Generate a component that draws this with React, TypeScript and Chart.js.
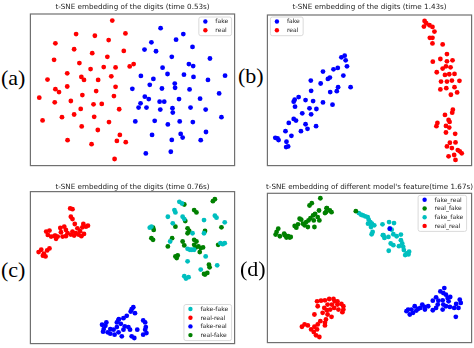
import React, { useEffect, useRef } from "react";
import { Chart, registerables } from "chart.js";

Chart.register(...registerables);

// matplotlib colours
const BLUE = "#0000ff";
const RED = "#ff0000";
const CYAN = "#00bfbf";
const GREEN = "#008000";

// ---------- panel (a) ----------
const aFake: number[][] = [
  [483, 85], [552, 103], [530, 120], [455, 128], [434, 150], [469, 155], [580, 142], [517, 172], [633, 177],
  [569, 194], [582, 200], [489, 205], [423, 230], [504, 224], [554, 226], [583, 233], [679, 229], [461, 239],
  [450, 257], [526, 253], [527, 266], [487, 268], [627, 242], [397, 269], [571, 271], [435, 293], [447, 300],
  [661, 283], [539, 300], [480, 308], [494, 308], [603, 299], [422, 313], [416, 326], [440, 326], [482, 332],
  [519, 328], [520, 341], [574, 326], [620, 332], [406, 368], [465, 366], [505, 377], [541, 368], [581, 370],
  [668, 355], [457, 409], [544, 406], [550, 417], [621, 400], [517, 424], [605, 425], [438, 465], [514, 460],
];
const aReal: number[][] = [
  [336, 62], [226, 103], [283, 108], [376, 101], [163, 131], [325, 121], [220, 149], [275, 161], [371, 154],
  [321, 172], [159, 181], [236, 191], [270, 209], [310, 203], [346, 204], [389, 201], [401, 194], [199, 222],
  [242, 233], [250, 242], [293, 242], [333, 231], [139, 241], [199, 262], [163, 270], [174, 279], [287, 276],
  [346, 263], [114, 296], [245, 288], [341, 291], [161, 310], [210, 306], [279, 316], [304, 315], [240, 330],
  [357, 331], [220, 347], [183, 355], [281, 354], [326, 370], [124, 365], [243, 383], [292, 394], [359, 409],
  [200, 425], [350, 427], [377, 431], [273, 437], [343, 482],
];

// ---------- panel (b) ----------
const bFake: number[][] = [
  [322, 168], [312, 173], [325, 182], [329, 200], [288, 209], [301, 205], [256, 216], [318, 228], [277, 234],
  [271, 238], [340, 263], [219, 243], [249, 252], [302, 263], [220, 274], [298, 275], [278, 278], [182, 293],
  [170, 301], [167, 307], [203, 302], [226, 305], [256, 309], [285, 316], [171, 322], [215, 327], [236, 329],
  [193, 342], [220, 345], [167, 359], [174, 364], [152, 371], [203, 375], [235, 381], [209, 389], [189, 396],
  [142, 396], [160, 410], [111, 416], [118, 418], [121, 423], [145, 428], [144, 444], [150, 442],
];
const bReal: number[][] = [
  [565, 63], [570, 70], [563, 80], [580, 76], [589, 81], [595, 95], [581, 114], [589, 114], [589, 131],
  [620, 134], [633, 163], [613, 178], [590, 186], [633, 185], [650, 182], [630, 200], [620, 207], [644, 203],
  [602, 218], [627, 226], [640, 224], [656, 223], [671, 244], [615, 246], [633, 246], [648, 243], [613, 270],
  [631, 266], [656, 263], [664, 279], [645, 286], [651, 331], [649, 340], [627, 347], [638, 362], [641, 368],
  [604, 371], [601, 381], [630, 380], [640, 385], [630, 400], [658, 404], [642, 431], [659, 430], [633, 442],
  [648, 447], [666, 453], [672, 457], [678, 463], [655, 468], [638, 472], [659, 483],
];

// ---------- panel (c) ----------
const cFakeFake: number[][] = [
  [540, 83], [548, 88], [525, 108], [528, 115], [505, 128], [550, 128], [555, 135], [615, 138], [648, 125],
  [653, 131], [678, 145], [520, 148], [450, 161], [455, 158], [580, 178], [615, 178], [512, 203], [565, 225],
  [572, 228], [578, 228], [585, 228], [665, 208], [672, 211], [678, 208], [620, 248], [565, 263], [655, 275],
  [605, 288], [555, 308], [560, 315], [568, 311],
];
const cRealReal: number[][] = [
  [208, 103], [215, 105], [210, 128], [215, 135], [222, 150], [248, 150], [256, 158], [262, 155], [245, 160],
  [230, 163], [238, 172], [250, 180], [242, 187], [233, 182], [225, 178], [215, 173], [220, 185], [210, 182],
  [200, 178], [195, 168], [190, 158], [178, 162], [180, 175], [185, 188], [195, 187], [170, 188], [160, 186],
  [150, 188], [140, 183], [135, 173], [145, 170], [163, 185], [165, 195], [120, 228], [112, 235], [128, 240],
  [133, 248], [138, 230], [145, 224], [125, 246],
];
const cFakeReal: number[][] = [
  [400, 402], [395, 408], [392, 415], [405, 420], [380, 428], [370, 435], [356, 438], [350, 448], [362, 452],
  [374, 460], [385, 462], [370, 470], [350, 462], [340, 470], [330, 468], [315, 458], [310, 468], [305, 455],
  [322, 478], [330, 482], [343, 485], [355, 478], [365, 490], [395, 490], [403, 495], [390, 470], [412, 470],
  [430, 442], [436, 448], [438, 462], [436, 470], [430, 485], [440, 480], [355, 440], [318, 448], [308, 476],
];
const cRealFake: number[][] = [
  [555, 91], [585, 108], [592, 115], [642, 81], [648, 75], [558, 141], [528, 158], [565, 163], [570, 171],
  [668, 160], [460, 161], [462, 168], [618, 171], [565, 178], [455, 193], [460, 198], [518, 193], [505, 218],
  [550, 203], [555, 215], [585, 198], [592, 203], [585, 213], [598, 218], [605, 223], [612, 221], [590, 221],
  [602, 235], [658, 213], [528, 248], [532, 253], [535, 245], [630, 273], [632, 281], [618, 303], [625, 298],
  [615, 301],
];

// ---------- panel (d) ----------
const dFakeReal: number[][] = [
  [625, 345], [613, 355], [622, 360], [630, 365], [635, 375], [620, 382], [607, 383], [590, 383], [605, 395],
  [600, 405], [590, 412], [622, 395], [630, 400], [642, 402], [655, 405], [668, 405], [672, 380], [675, 390],
  [661, 393], [638, 385], [576, 400], [565, 402], [552, 405], [545, 408], [535, 400], [525, 410], [515, 410],
  [510, 415], [520, 425], [530, 420], [540, 413], [558, 395], [566, 410], [660, 432], [620, 410], [600, 373],
  [643, 372], [459, 165],
];
const dRealFake: number[][] = [
  [248, 73], [222, 88], [215, 95], [268, 103], [277, 110], [282, 115], [265, 115], [244, 110], [232, 120],
  [226, 125], [218, 133], [240, 130], [245, 140], [212, 140], [205, 145], [195, 150], [180, 152], [170, 157],
  [185, 135], [190, 138], [200, 155], [230, 160], [210, 160], [175, 162], [150, 188], [155, 192], [138, 180],
  [140, 185], [120, 165], [115, 175], [112, 183], [125, 188], [145, 192], [158, 190], [228, 140], [262, 118],
  [267, 103], [356, 112],
];
const dFakeFake: number[][] = [
  [365, 118], [372, 123], [378, 125], [385, 128], [392, 130], [395, 138], [400, 145], [405, 150], [393, 150],
  [402, 160], [412, 155], [407, 175], [404, 182], [437, 152], [457, 145], [472, 148], [460, 165], [465, 168],
  [440, 185], [443, 193], [438, 185], [455, 190], [470, 182], [480, 188], [493, 183], [462, 210], [470, 215],
  [456, 232], [487, 218], [500, 220], [502, 230], [510, 240], [518, 235], [516, 243], [506, 245], [493, 200],
  [497, 210],
];
const dRealReal: number[][] = [
  [238, 385], [250, 383], [262, 382], [275, 378], [288, 378], [300, 385], [312, 393], [318, 400], [318, 410],
  [315, 418], [303, 410], [290, 405], [278, 410], [268, 412], [260, 405], [270, 395], [283, 395], [292, 385],
  [240, 400], [230, 425], [255, 420], [270, 425], [282, 432], [265, 440], [248, 445], [262, 458], [240, 455],
  [230, 462], [210, 458], [200, 455], [192, 462], [220, 470], [228, 478], [235, 488], [245, 493], [238, 470],
  [262, 450], [300, 395],
];

const titles = [
  "t-SNE embedding of the digits (time 0.53s)",
  "t-SNE embedding of the digits (time 1.43s)",
  "t-SNE embedding of the digits (time 0.76s)",
  "t-SNE embedding of different model's feature(time 1.67s)",
];
const tags = ["(a)", "(b)", "(c)", "(d)"];

type Series = { label: string; color: string; pts: number[][] };
type Panel = {
  frame: [number, number, number, number]; // L, T, R, B in page px
  titleY: number;
  title: string;
  yr: [number, number];
  series: Series[];
  legend: { corner: "tl" | "tr" | "br"; dx: number; dy: number };
  tag: string;
  tagX: number;
  tagY: number;
};

const panels: Panel[] = [
  {
    frame: [29, 14, 236, 167.3], titleY: 6.9, title: titles[0], yr: [42, 502],
    series: [
      { label: "fake", color: BLUE, pts: aFake },
      { label: "real", color: RED, pts: aReal },
    ],
    legend: { corner: "tr", dx: 3, dy: 3 }, tag: tags[0], tagX: 1, tagY: 80,
  },
  {
    frame: [266, 15, 473, 166.7], titleY: 6.7, title: titles[1], yr: [45, 500],
    series: [
      { label: "fake", color: BLUE, pts: bFake },
      { label: "real", color: RED, pts: bReal },
    ],
    legend: { corner: "tl", dx: 3, dy: 2 }, tag: tags[1], tagX: 238, tagY: 78,
  },
  {
    frame: [29, 191.3, 236, 344.7], titleY: 187.3, title: titles[2], yr: [52, 512],
    series: [
      { label: "fake-fake", color: CYAN, pts: cFakeFake },
      { label: "real-real", color: RED, pts: cRealReal },
      { label: "fake-real", color: BLUE, pts: cFakeReal },
      { label: "real-fake", color: GREEN, pts: cRealFake },
    ],
    legend: { corner: "br", dx: 3, dy: 3 }, tag: tags[2], tagX: 1, tagY: 271.3,
  },
  {
    frame: [266, 193.3, 473, 344], titleY: 186.7, title: titles[3], yr: [58, 510],
    series: [
      { label: "fake_real", color: BLUE, pts: dFakeReal },
      { label: "real_fake", color: GREEN, pts: dRealFake },
      { label: "fake_fake", color: CYAN, pts: dFakeFake },
      { label: "real_real", color: RED, pts: dRealReal },
    ],
    legend: { corner: "tr", dx: 5, dy: 2 }, tag: tags[3], tagX: 240, tagY: 270.3,
  },
];

const X_RANGE: [number, number] = [87, 708];
const TITLE_SIZE = 7.2;
const LEGEND_SIZE = 6;
const FONT = "'DejaVu Sans', sans-serif";

const framePlugin = {
  id: "frameBox",
  afterDatasetsDraw(chart: any) {
    const { ctx, chartArea } = chart;
    ctx.save();
    ctx.strokeStyle = "#707070";
    ctx.lineWidth = 1.2;
    ctx.strokeRect(chartArea.left, chartArea.top, chartArea.right - chartArea.left, chartArea.bottom - chartArea.top);
    ctx.restore();
  },
};

const legendPlugin = {
  id: "insideLegend",
  afterDraw(chart: any, _args: any, opts: any) {
    if (!opts || !opts.corner) return;
    const { ctx, chartArea } = chart;
    const items = chart.data.datasets.map((d: any) => ({ label: d.label, color: d.backgroundColor }));
    ctx.save();
    ctx.font = `${LEGEND_SIZE}px ${FONT}`;
    const maxW = Math.max(...items.map((it: any) => ctx.measureText(it.label).width));
    const rowH = 8.7;
    const boxW = 16.5 + maxW + 3.5;
    const boxH = 10 + (items.length - 1) * rowH;
    let x0 = chartArea.left + opts.dx;
    let y0 = chartArea.top + opts.dy;
    if (opts.corner === "tr" || opts.corner === "br") x0 = chartArea.right - opts.dx - boxW;
    if (opts.corner === "br") y0 = chartArea.bottom - opts.dy - boxH;
    ctx.fillStyle = "rgba(255,255,255,0.85)";
    ctx.strokeStyle = "#d0d0d0";
    ctx.lineWidth = 0.8;
    ctx.beginPath();
    (ctx as any).roundRect ? (ctx as any).roundRect(x0, y0, boxW, boxH, 2) : ctx.rect(x0, y0, boxW, boxH);
    ctx.fill();
    ctx.stroke();
    ctx.textBaseline = "middle";
    items.forEach((it: any, i: number) => {
      const cy = y0 + 4.5 + i * rowH;
      ctx.fillStyle = it.color;
      ctx.beginPath();
      ctx.arc(x0 + 6.5, cy, 2.2, 0, Math.PI * 2);
      ctx.fill();
      ctx.fillStyle = "#222";
      ctx.fillText(it.label, x0 + 16.5, cy + 0.3);
    });
    ctx.restore();
  },
};

function PanelChart({ p }: { p: Panel }) {
  const ref = useRef<HTMLCanvasElement | null>(null);
  const [L, T, R, B] = p.frame;
  const left = L - 1;
  const top = Math.round(p.titleY - 6);
  const width = Math.round(R - L + 2);
  const height = Math.round(B - top + 1);
  const lh = TITLE_SIZE * 1.2;
  const padTop = Math.max(0, p.titleY - top - lh / 2);
  const padBottom = Math.max(0, T - top - padTop - lh);

  useEffect(() => {
    if (!ref.current) return;
    const chart = new Chart(ref.current, {
      type: "scatter",
      data: {
        datasets: p.series.map((s) => ({
          label: s.label,
          data: s.pts.map(([x, y]) => ({ x, y })),
          backgroundColor: s.color,
          borderWidth: 0,
          pointRadius: 2.4,
          pointHoverRadius: 2.4,
        })),
      },
      options: {
        animation: false,
        responsive: false,
        events: [],
        layout: { padding: { left: 1, right: 1, bottom: 1, top: 0 } },
        scales: {
          x: { type: "linear", display: false, min: X_RANGE[0], max: X_RANGE[1] },
          y: { type: "linear", display: false, min: p.yr[0], max: p.yr[1], reverse: true },
        },
        plugins: {
          legend: { display: false },
          tooltip: { enabled: false },
          title: {
            display: true,
            text: p.title,
            color: "#222",
            font: { family: FONT, size: TITLE_SIZE, weight: "normal", lineHeight: 1.2 },
            padding: { top: padTop, bottom: padBottom },
          },
          insideLegend: p.legend,
        } as any,
      },
      plugins: [framePlugin, legendPlugin],
    } as any);
    return () => chart.destroy();
  }, []);

  return (
    <>
      <canvas
        ref={ref}
        width={width}
        height={height}
        style={{ position: "absolute", left, top, width, height }}
      />
      <span
        style={{
          position: "absolute",
          left: p.tagX,
          top: p.tagY - 12.8,
          fontFamily: "'Liberation Serif', 'Times New Roman', serif",
          fontSize: 22,
          lineHeight: "22px",
          color: "#000",
          whiteSpace: "nowrap",
        }}
      >
        {p.tag}
      </span>
    </>
  );
}

export default function App() {
  return (
    <div
      style={{
        position: "fixed",
        left: 0,
        top: 0,
        width: 474,
        height: 348,
        background: "#fff",
        overflow: "hidden",
      }}
    >
      {panels.map((p, i) => (
        <PanelChart key={i} p={p} />
      ))}
    </div>
  );
}
